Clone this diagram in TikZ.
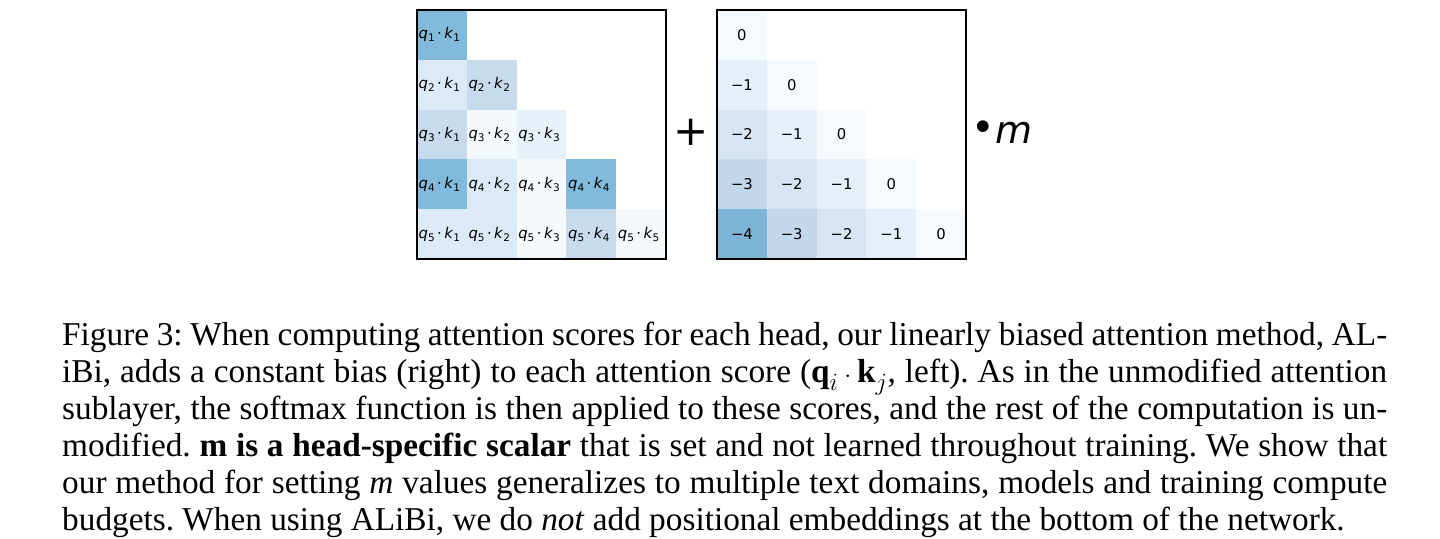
\documentclass[tikz,border=0pt]{standalone}
\usepackage{fontspec}
\setmainfont{Liberation Serif}
\newfontfamily\dv{DejaVu Sans}
\definecolor{bA}{RGB}{129,186,218}
\definecolor{bB}{RGB}{200,219,238}
\definecolor{bC}{RGB}{220,233,246}
\definecolor{bD}{RGB}{232,240,250}
\definecolor{bE}{RGB}{244,249,254}
\definecolor{rA}{RGB}{245,250,255}
\definecolor{rB}{RGB}{230,239,249}
\definecolor{rC}{RGB}{214,228,243}
\definecolor{rD}{RGB}{193,216,237}
\definecolor{rE}{RGB}{125,180,215}
\newcommand{\qk}[2]{\textit{q}\raisebox{-0.35ex}{\fontsize{10.5}{10.5}\selectfont #1}\,·\,\textit{k}\raisebox{-0.35ex}{\fontsize{10.5}{10.5}\selectfont #2}}
\begin{document}
\begin{tikzpicture}[x=1pt,y=1pt,
  cl/.style={font=\dv\fontsize{14.8}{14.8}\selectfont,anchor=west,inner sep=0pt},
  nm/.style={font=\dv\fontsize{14.8}{14.8}\selectfont,inner sep=0pt}]
\useasboundingbox (0,0) rectangle (1440,538);
\def\cs{49.8}
\foreach \r/\c/\col in {1/1/bA,2/1/bC,2/2/bB,3/1/bB,3/2/bE,3/3/bD,4/1/bA,4/2/bC,4/3/bE,4/4/bA,5/1/bC,5/2/bC,5/3/bE,5/4/bB,5/5/bE}{
  \fill[\col] (417+\c*\cs-\cs,528-\r*\cs+\cs) rectangle (417+\c*\cs,528-\r*\cs);
  \node[cl] (l\r\c) at (418.5+\c*\cs-\cs,528-\r*\cs+\cs/2) {\qk{\r}{\c}};
}
\foreach \r/\c/\col/\v in {1/1/rA/0,2/1/rB/−1,2/2/rA/0,3/1/rC/−2,3/2/rB/−1,3/3/rA/0,4/1/rD/−3,4/2/rC/−2,4/3/rB/−1,4/4/rA/0,5/1/rE/−4,5/2/rD/−3,5/3/rC/−2,5/4/rB/−1,5/5/rA/0}{
  \fill[\col] (717+\c*\cs-\cs,528-\r*\cs+\cs) rectangle (717+\c*\cs,528-\r*\cs);
  \node[nm] (r\r\c) at (717+\c*\cs-\cs/2,528-\r*\cs+\cs/2) {\v};
}
\draw[line width=1.2pt] (417,528) rectangle (666,279);
\draw[line width=1.2pt] (717,528) rectangle (966,279);
\node[font=\dv\fontsize{42}{42}\selectfont] (plus) at (691,406) {+};
\node[font=\dv\fontsize{38}{38}\selectfont,anchor=west] (m) at (968,406) {\raisebox{0.1ex}{\fontsize{40}{40}\selectfont•}\textit{m}};
\node[anchor=north west,inner sep=0pt] (cap) at (62,216) {\parbox{1325pt}{\frenchspacing\fontsize{33.3}{37}\selectfont
Figure 3: When computing attention scores for each head, our linearly biased attention method, AL-\linebreak
iBi, adds a constant bias (right) to each attention score ($\mathbf{q}_i\cdot\mathbf{k}_j$, left). As in the unmodified attention\linebreak
sublayer, the softmax function is then applied to these scores, and the rest of the computation is un-\linebreak
modified. \textbf{m is a head-specific scalar} that is set and not learned throughout training. We show that\linebreak
our method for setting \textit{m} values generalizes to multiple text domains, models and training compute\linebreak
budgets. When using ALiBi, we do \textit{not} add positional embeddings at the bottom of the network.}};
\end{tikzpicture}
\end{document}
